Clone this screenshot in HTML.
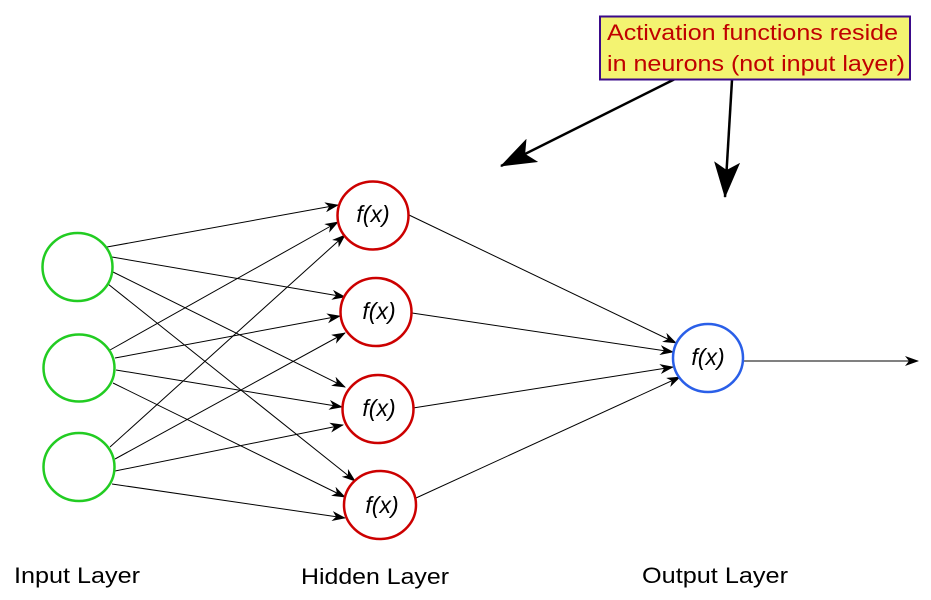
<!DOCTYPE html>
<html><head><meta charset="utf-8"><style>
html,body{margin:0;padding:0;background:#fff;}
svg{display:block;}
text{font-family:"Liberation Sans",Arial,sans-serif;}
</style></head><body>
<svg width="931" height="600" viewBox="0 0 931 600" xmlns="http://www.w3.org/2000/svg">
<defs>
<marker id="a" markerWidth="14" markerHeight="10" refX="13" refY="5" orient="auto" markerUnits="userSpaceOnUse">
<path d="M0,0 L14,5 L0,10 L4,5 Z" fill="#000"/>
</marker>
<marker id="b" markerWidth="36" markerHeight="26" refX="35" refY="13" orient="auto" markerUnits="userSpaceOnUse">
<path d="M0,0 L36,13 L0,26 L8,13 Z" fill="#000"/>
</marker>
</defs>
<g stroke="#000" stroke-width="1" fill="none" marker-end="url(#a)">
<line x1="107" y1="247" x2="338" y2="205"/>
<line x1="112" y1="257" x2="345" y2="297"/>
<line x1="113" y1="272" x2="345" y2="387"/>
<line x1="108" y1="284" x2="355" y2="481"/>
<line x1="110" y1="350" x2="338" y2="222"/>
<line x1="115" y1="358" x2="340" y2="316"/>
<line x1="116" y1="370" x2="342" y2="407"/>
<line x1="113" y1="383" x2="345" y2="497"/>
<line x1="110" y1="447" x2="345" y2="235"/>
<line x1="115" y1="459" x2="345" y2="333"/>
<line x1="115" y1="471" x2="343" y2="425"/>
<line x1="112" y1="484" x2="345" y2="518"/>
<line x1="409" y1="215" x2="676" y2="343"/>
<line x1="412" y1="313" x2="673" y2="352"/>
<line x1="413" y1="408" x2="673" y2="367"/>
<line x1="416" y1="498" x2="680" y2="377"/>
<line x1="743" y1="361" x2="918" y2="361"/>
</g>
<g stroke="#000" stroke-width="2.5" fill="none" marker-end="url(#b)">
<line x1="675" y1="79" x2="501" y2="166"/>
<line x1="732" y1="80" x2="725" y2="197"/>
</g>
<g fill="#fff" stroke-width="2.5">
<ellipse cx="77.5" cy="267" rx="35" ry="34" stroke="#22cc22"/>
<ellipse cx="79" cy="368" rx="35.5" ry="33.5" stroke="#22cc22"/>
<ellipse cx="79" cy="467" rx="35.5" ry="34" stroke="#22cc22"/>
<ellipse cx="373" cy="215.5" rx="35.5" ry="34" stroke="#cc0000"/>
<ellipse cx="376" cy="312" rx="35.5" ry="34" stroke="#cc0000"/>
<ellipse cx="378" cy="409" rx="35.5" ry="34" stroke="#cc0000"/>
<ellipse cx="380" cy="505" rx="36" ry="34" stroke="#cc0000"/>
<ellipse cx="708" cy="358" rx="35" ry="34" stroke="#2a5fe8"/>
</g>
<g font-size="23" font-style="italic" fill="#000" text-anchor="middle">
<text x="373" y="222">f(x)</text>
<text x="379" y="319">f(x)</text>
<text x="379" y="416">f(x)</text>
<text x="382" y="513">f(x)</text>
<text x="708" y="365">f(x)</text>
</g>
<rect x="600" y="16.5" width="310" height="63" fill="#f3f371" stroke="#3a0a8a" stroke-width="2"/>
<g font-size="22" fill="#c00000">
<text x="607" y="40" textLength="291" lengthAdjust="spacingAndGlyphs">Activation functions reside</text>
<text x="607" y="71" textLength="298" lengthAdjust="spacingAndGlyphs">in neurons (not input layer)</text>
</g>
<g font-size="22" fill="#000">
<text x="14" y="583" textLength="126" lengthAdjust="spacingAndGlyphs">Input Layer</text>
<text x="301" y="584" textLength="148" lengthAdjust="spacingAndGlyphs">Hidden Layer</text>
<text x="642" y="583" textLength="146" lengthAdjust="spacingAndGlyphs">Output Layer</text>
</g>
</svg>
</body></html>
